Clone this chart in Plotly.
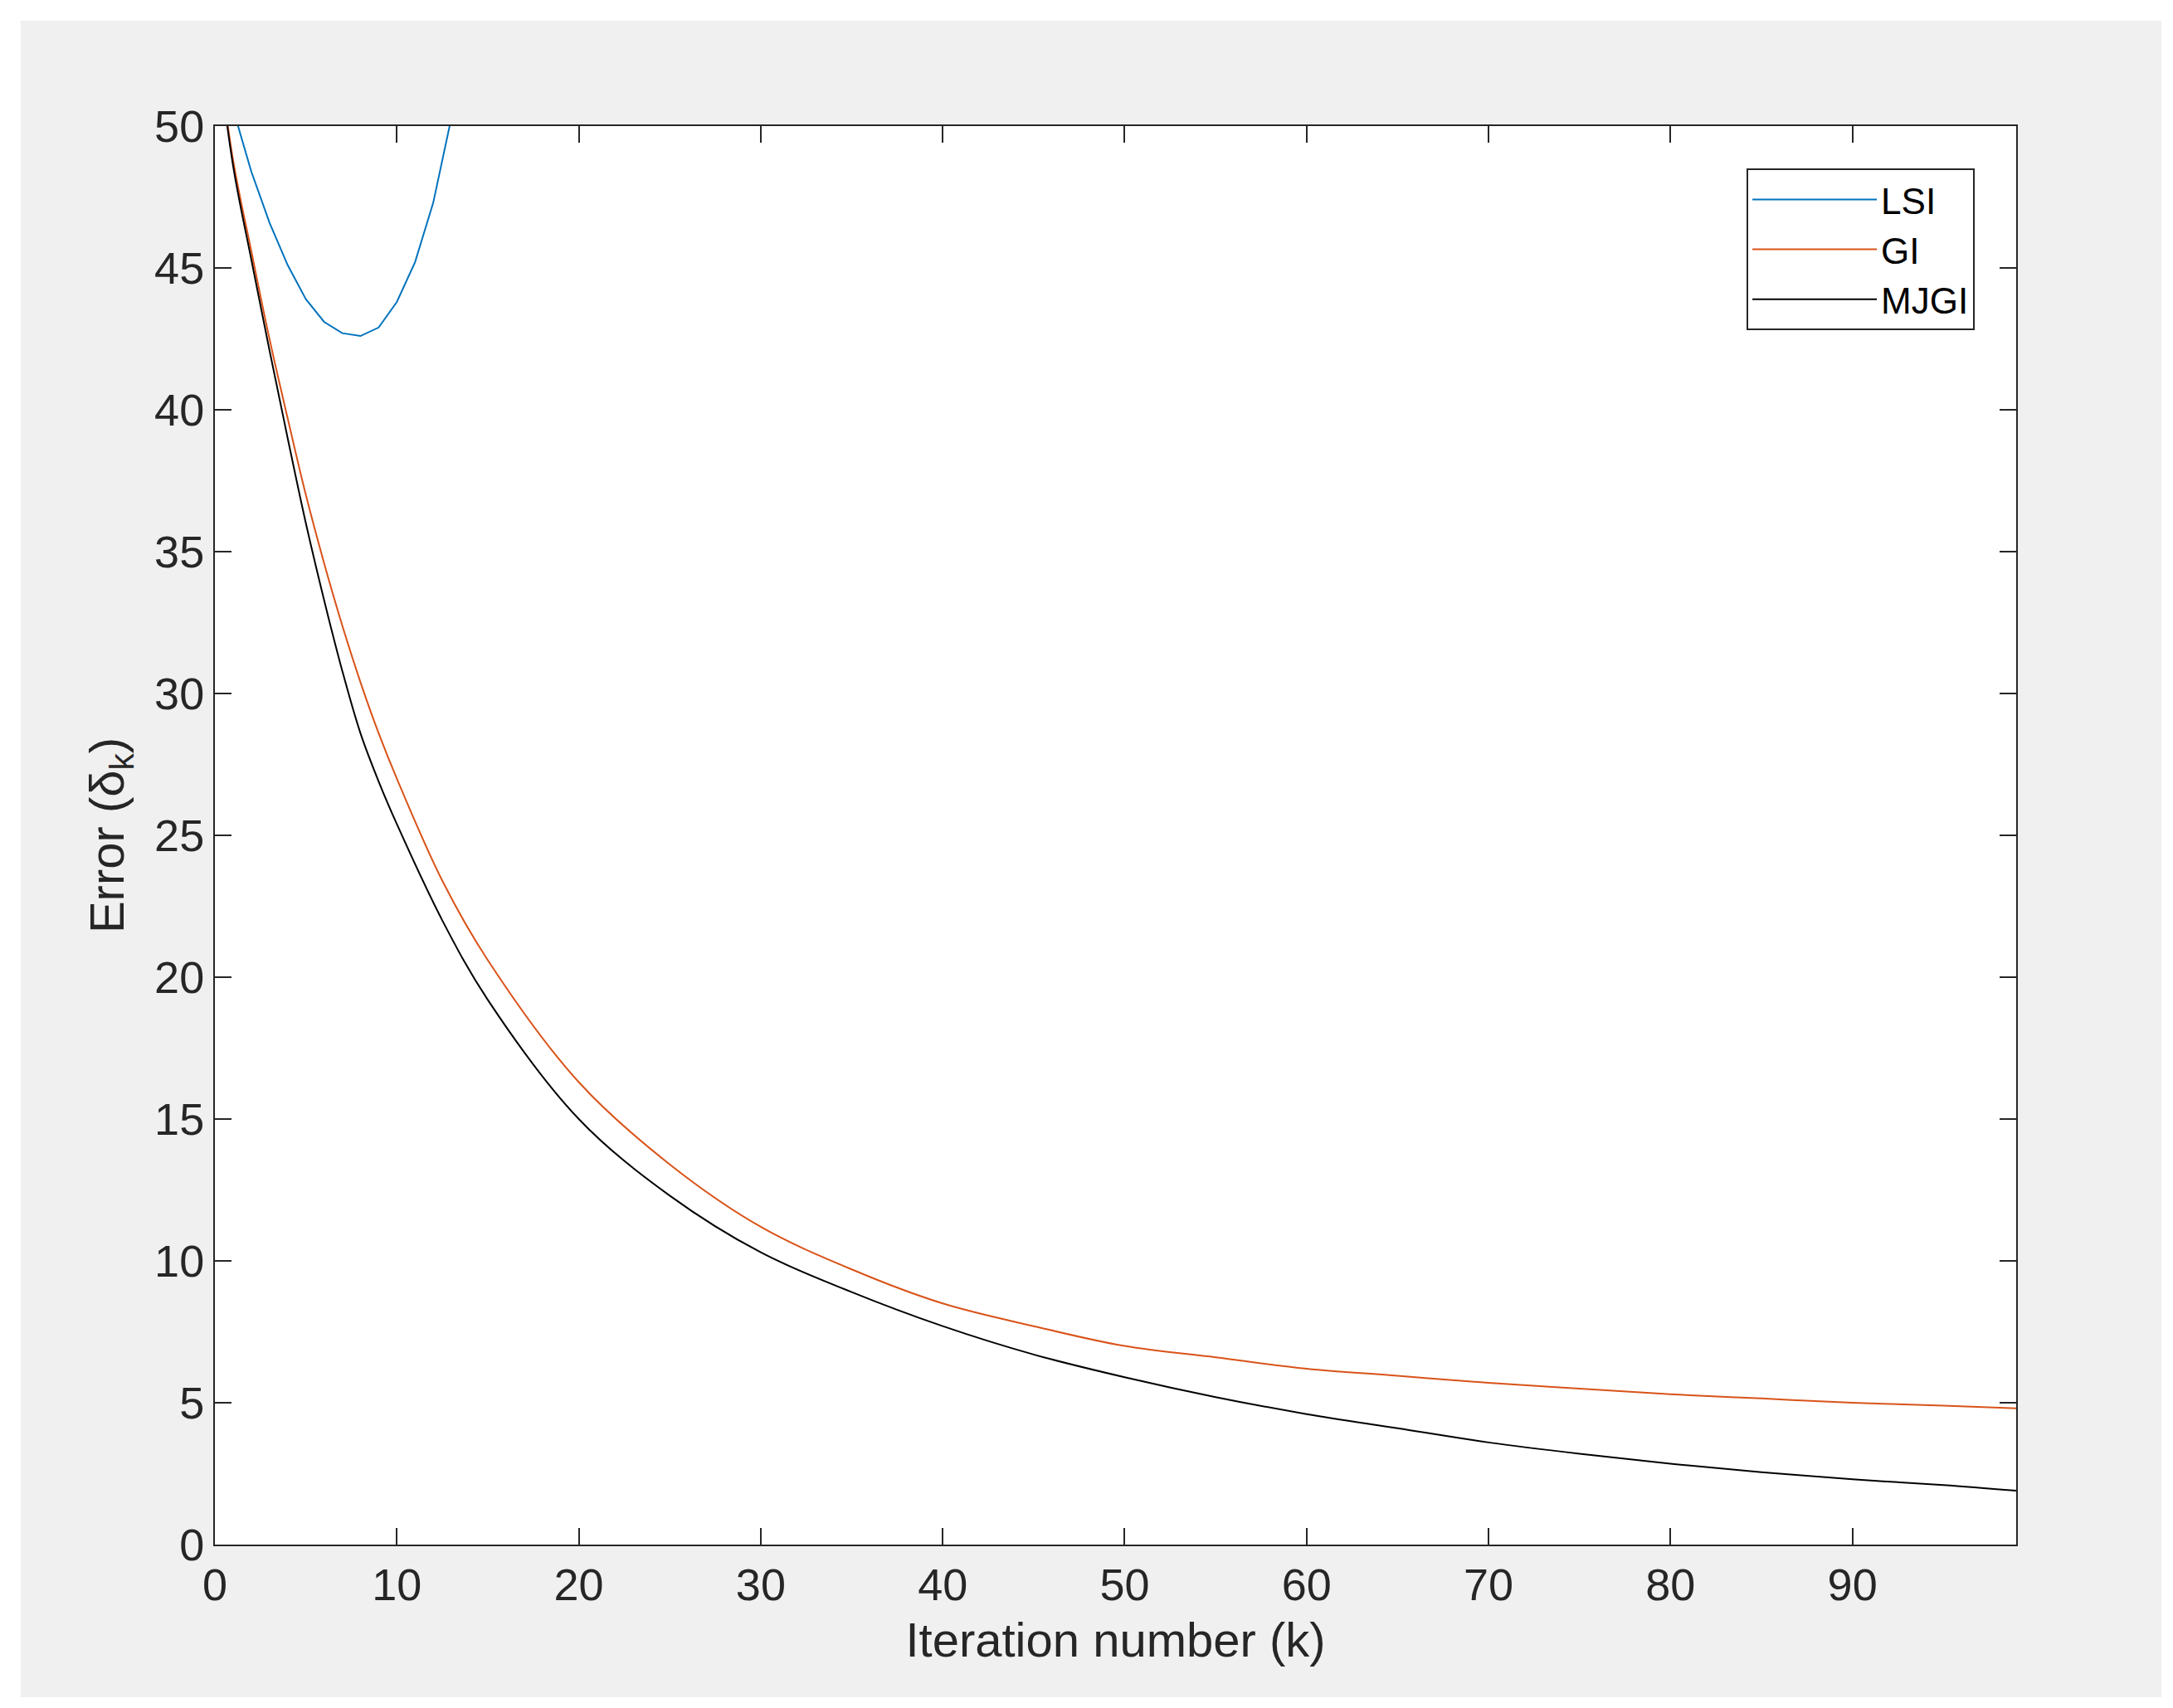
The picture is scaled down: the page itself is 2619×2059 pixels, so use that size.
import plotly.graph_objects as go

# LSI iterates (only the part within the axis window matters)
lsi_k = [1, 2, 3, 4, 5, 6, 7, 8, 9, 10, 11, 12, 13, 14]
lsi_err = [50.6, 48.4, 46.6, 45.1, 43.9, 43.1, 42.7, 42.6, 42.9, 43.8, 45.2, 47.3, 50.3, 54.0]

k_pts = [0, 1, 2, 3, 4, 5, 6, 7, 8, 9, 10, 12.5, 15, 20, 25, 30, 35, 40, 45, 50, 55, 60, 65, 70, 75, 80, 85, 90, 95, 99]
gi_err = [53.5, 48.8, 45.6, 42.5, 39.7, 37.0, 34.6, 32.4, 30.4, 28.6, 27.0, 23.4, 20.6, 16.3, 13.4, 11.2, 9.7,
          8.5, 7.7, 7.0, 6.6, 6.2, 5.95, 5.7, 5.5, 5.3, 5.15, 5.0, 4.9, 4.8]
mjgi_err = [53.5, 48.6, 45.3, 42.1, 39.0, 36.0, 33.3, 30.8, 28.6, 26.9, 25.4, 22.0, 19.2, 15.0, 12.3, 10.3, 8.9,
            7.7, 6.7, 5.9, 5.2, 4.6, 4.1, 3.6, 3.2, 2.85, 2.55, 2.3, 2.1, 1.9]

font = "Liberation Sans, Arial, sans-serif"

fig = go.Figure()
fig.add_trace(go.Scatter(x=lsi_k, y=lsi_err, mode="lines", name="LSI",
                         line=dict(color="#0072BD", width=2)))
fig.add_trace(go.Scatter(x=k_pts, y=gi_err, mode="lines", name="GI",
                         line=dict(color="#D95319", width=2, shape="spline")))
fig.add_trace(go.Scatter(x=k_pts, y=mjgi_err, mode="lines", name="MJGI",
                         line=dict(color="black", width=2, shape="spline")))

axis = dict(showline=True, linecolor="#262626", linewidth=2, mirror="ticks",
            ticks="inside", ticklen=20, tickwidth=2, tickcolor="#262626",
            showgrid=False, zeroline=False,
            tickfont=dict(family=font, size=54, color="#262626"))

fig.update_layout(
    width=2619, height=2059,
    paper_bgcolor="white", plot_bgcolor="white",
    margin=dict(l=251, r=2619 - 2422, t=144, b=2059 - 1854),
    font=dict(family=font, color="#262626"),
    xaxis=dict(axis, range=[0, 99], dtick=10,
               title=dict(text="Iteration number (k)", font=dict(size=58), standoff=18)),
    yaxis=dict(axis, range=[0, 50], dtick=5,
               title=dict(text="Error (δ<sub>k</sub>)", font=dict(size=58), standoff=18)),
    legend=dict(x=0.977, y=0.97, xanchor="right", yanchor="top",
                bgcolor="white", bordercolor="#262626", borderwidth=2,
                font=dict(size=44, color="black"), itemwidth=150,
                tracegroupgap=8),
    showlegend=True,
    shapes=[dict(type="rect", xref="paper", yref="paper", layer="below",
                 x0=-234 / 2171, x1=1 + 175 / 2171, y0=-184 / 1710, y1=1 + 127 / 1710,
                 fillcolor="#f0f0f0", line=dict(width=0)),
            dict(type="rect", xref="paper", yref="paper", layer="below",
                 x0=0, x1=1, y0=0, y1=1, fillcolor="white", line=dict(width=0))],
)
fig.write_html("out.html")
